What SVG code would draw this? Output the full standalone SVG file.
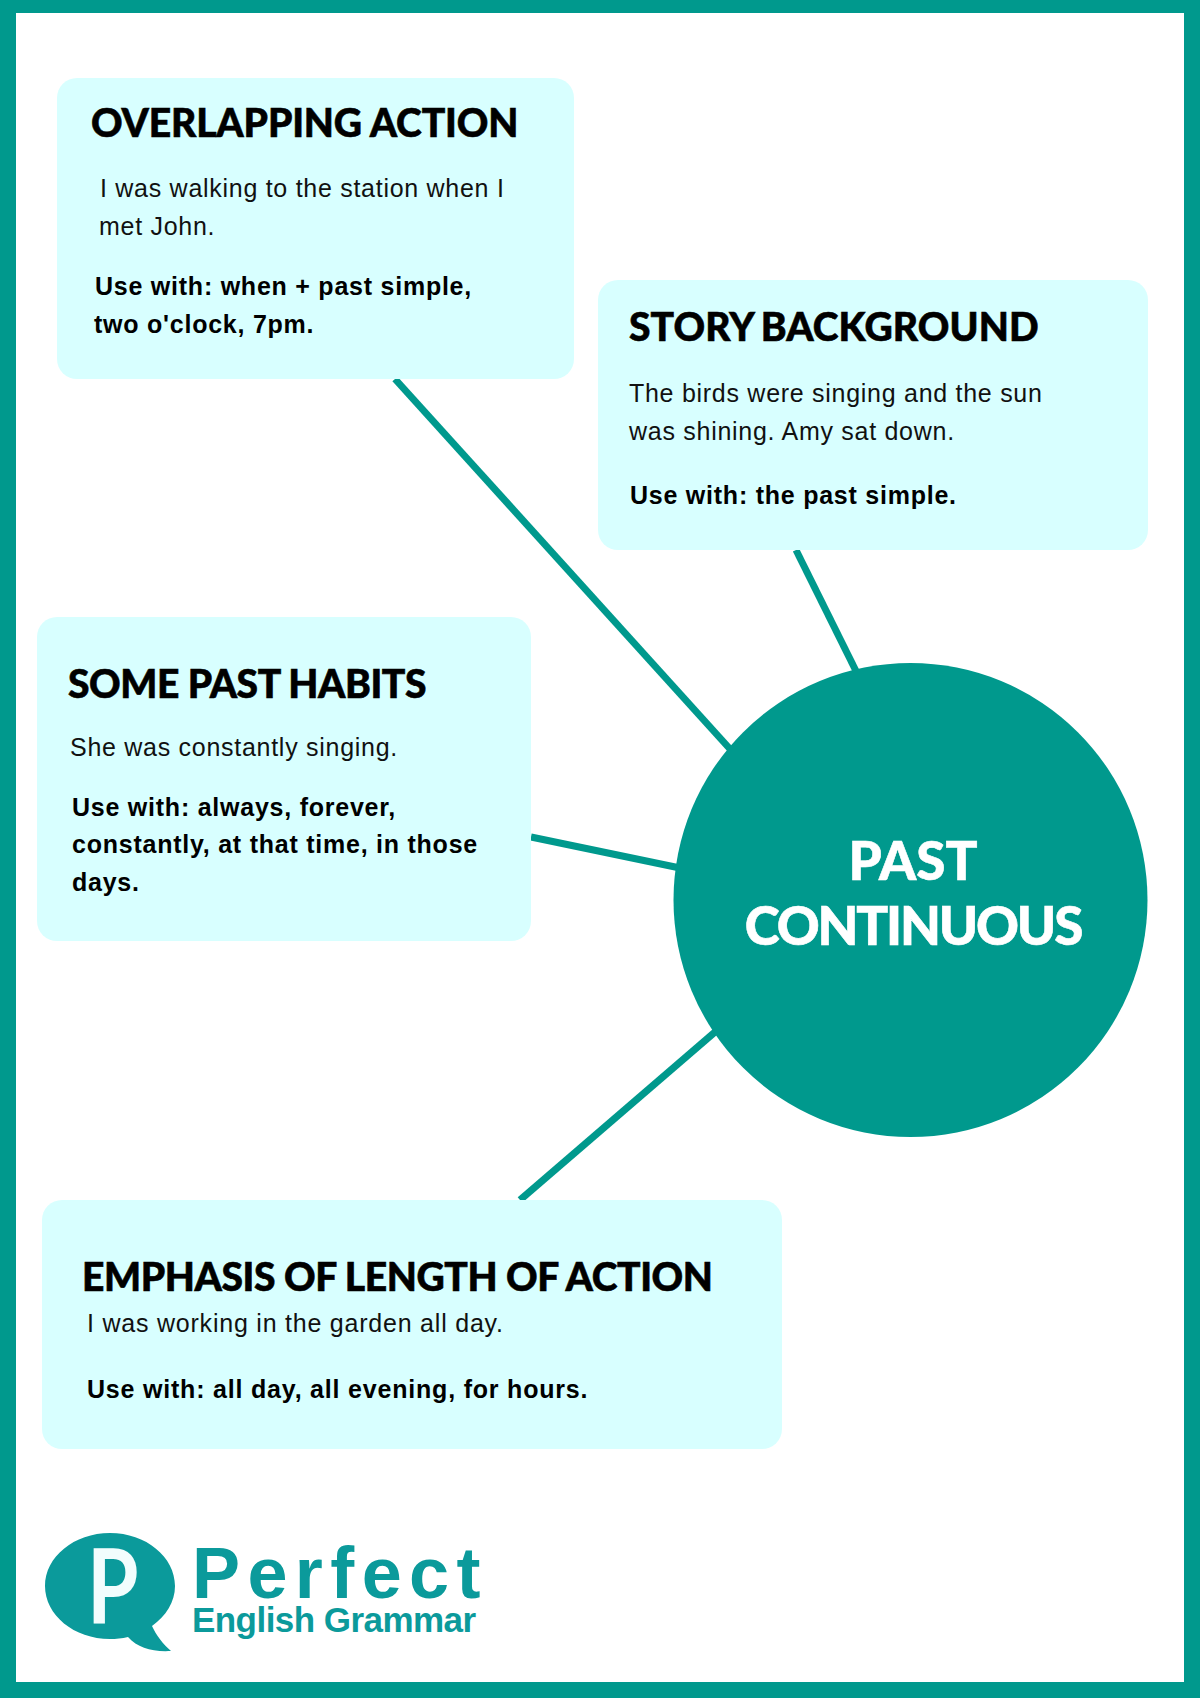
<svg xmlns="http://www.w3.org/2000/svg" width="1200" height="1698" viewBox="0 0 1200 1698">
<style>
.box{fill:#d8ffff}
.h{font-family:"Lato","Liberation Sans",sans-serif;font-weight:900;font-size:39px;fill:#000;stroke:#000;stroke-width:.6}
.b{font-family:"Liberation Sans",Arial,sans-serif;font-size:25px;letter-spacing:.72px;fill:#111}
.u{font-family:"Liberation Sans",Arial,sans-serif;font-size:25px;font-weight:700;letter-spacing:.76px;fill:#000}
.c{font-family:"Lato","Liberation Sans",sans-serif;font-weight:900;font-size:53px;fill:#fff;stroke:#fff;stroke-width:.6;text-anchor:middle}
.con{stroke:#00998d;stroke-width:7;fill:none}
.lg{fill:#0b9a9b;font-family:"Liberation Sans",sans-serif;font-weight:700}
</style>
<rect x="8" y="5" width="1184" height="1685" fill="#fff" stroke="#00998d" stroke-width="16"/>
<g id="connectors">
<line class="con" x1="395" y1="379" x2="730" y2="749"/>
<line class="con" x1="796" y1="550" x2="856" y2="671"/>
<line class="con" x1="531" y1="837" x2="680" y2="868"/>
<line class="con" x1="715" y1="1032" x2="520" y2="1200"/>
</g>
<g id="node-overlapping">
<rect class="box" x="57" y="78" width="517" height="301" rx="20"/>
<text class="h" x="91" y="137" letter-spacing="-.15">OVERLAPPING ACTION</text>
<text class="b" x="100" y="197">I was walking to the station when I</text>
<text class="b" x="99" y="235">met John.</text>
<text class="u" x="95" y="295">Use with: when + past simple,</text>
<text class="u" x="94" y="333">two o'clock, 7pm.</text>
</g>
<g id="node-story">
<rect class="box" x="598" y="280" width="550" height="270" rx="20"/>
<text class="h" x="629" y="341" letter-spacing=".1" word-spacing="-2">STORY BACKGROUND</text>
<text class="b" x="629" y="402">The birds were singing and the sun</text>
<text class="b" x="629" y="440">was shining. Amy sat down.</text>
<text class="u" x="630" y="504">Use with: the past simple.</text>
</g>
<g id="node-habits">
<rect class="box" x="37" y="617" width="494" height="324" rx="20"/>
<text class="h" x="68" y="698" letter-spacing="-.45">SOME PAST HABITS</text>
<text class="b" x="70" y="756">She was constantly singing.</text>
<text class="u" x="72" y="816">Use with: always, forever,</text>
<text class="u" x="72" y="853">constantly, at that time, in those</text>
<text class="u" x="72" y="891">days.</text>
</g>
<g id="node-emphasis">
<rect class="box" x="42" y="1200" width="740" height="249" rx="20"/>
<text class="h" x="82" y="1291" letter-spacing="-.4">EMPHASIS OF LENGTH OF ACTION</text>
<text class="b" x="87" y="1332" style="letter-spacing:.78px">I was working in the garden all day.</text>
<text class="u" x="87" y="1398" style="letter-spacing:.8px">Use with: all day, all evening, for hours.</text>
</g>
<g id="node-center">
<circle cx="910.5" cy="900" r="237" fill="#00998d"/>
<text class="c" x="913" y="880">PAST</text>
<text class="c" x="913" y="945" letter-spacing="-2.200">CONTINUOUS</text>
</g>
<g id="logo">
<path fill="#0b9a9b" d="M45 1586C45 1557 74 1533 110 1533C146 1533 175 1557 175 1586C175 1602 166 1616 152 1626C156 1635 163 1644 171 1651C152 1652 138 1648 128 1637C122 1638.500 116 1639 110 1639C74 1639 45 1615 45 1586Z"/>
<text transform="translate(87 1623) scale(.8 1)" font-family="Lato,sans-serif" font-weight="700" font-size="104" fill="#f2fdfd">P</text>
<text class="lg" x="192" y="1598" font-size="72" letter-spacing="7.4">Perfect</text>
<text class="lg" x="192" y="1632" font-size="35" letter-spacing="-.55">English Grammar</text>
</g>
</svg>
